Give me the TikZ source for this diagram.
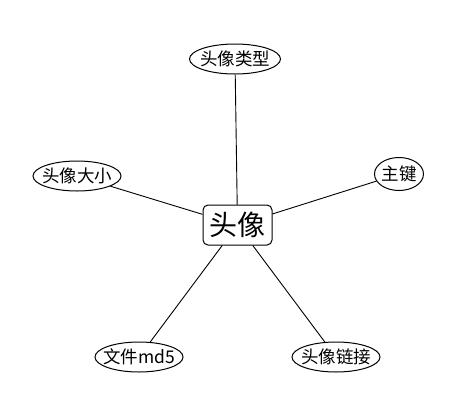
\documentclass[tikz,border=0pt]{standalone}
\usepackage{fontspec}
\setmainfont{Noto Sans CJK SC}
\usetikzlibrary{shapes.geometric}
\begin{document}
\begin{tikzpicture}[x=1pt,y=-1pt,
  leaf/.style={ellipse,draw,line width=1pt,inner xsep=-12pt,inner ysep=-4pt,minimum height=30pt,font=\fontsize{17.5}{17.5}\selectfont},
  hub/.style={draw,rounded corners=5pt,line width=1pt,minimum width=69pt,minimum height=40pt,inner sep=0pt,font=\fontsize{28}{28}\selectfont},
  link/.style={draw,line width=0.9pt}]
\useasboundingbox (0,0) rectangle (474,416);
\node[hub] (c) at (237.5,225) {头像};
\node[leaf,minimum width=91pt] (t) at (235,59) {头像类型};
\node[leaf,minimum width=88pt] (l) at (77,176) {头像大小};
\node[leaf,minimum width=49pt,minimum height=33pt] (r) at (399,174) {主键};
\node[leaf,minimum width=88pt] (bl) at (139,357) {文件md5};
\node[leaf,minimum width=88pt] (br) at (336,357) {头像链接};
\draw[link] (c) -- (t);
\draw[link] (c) -- (l);
\draw[link] (c) -- (r);
\draw[link] (c) -- (bl);
\draw[link] (c) -- (br);
\end{tikzpicture}
\end{document}
